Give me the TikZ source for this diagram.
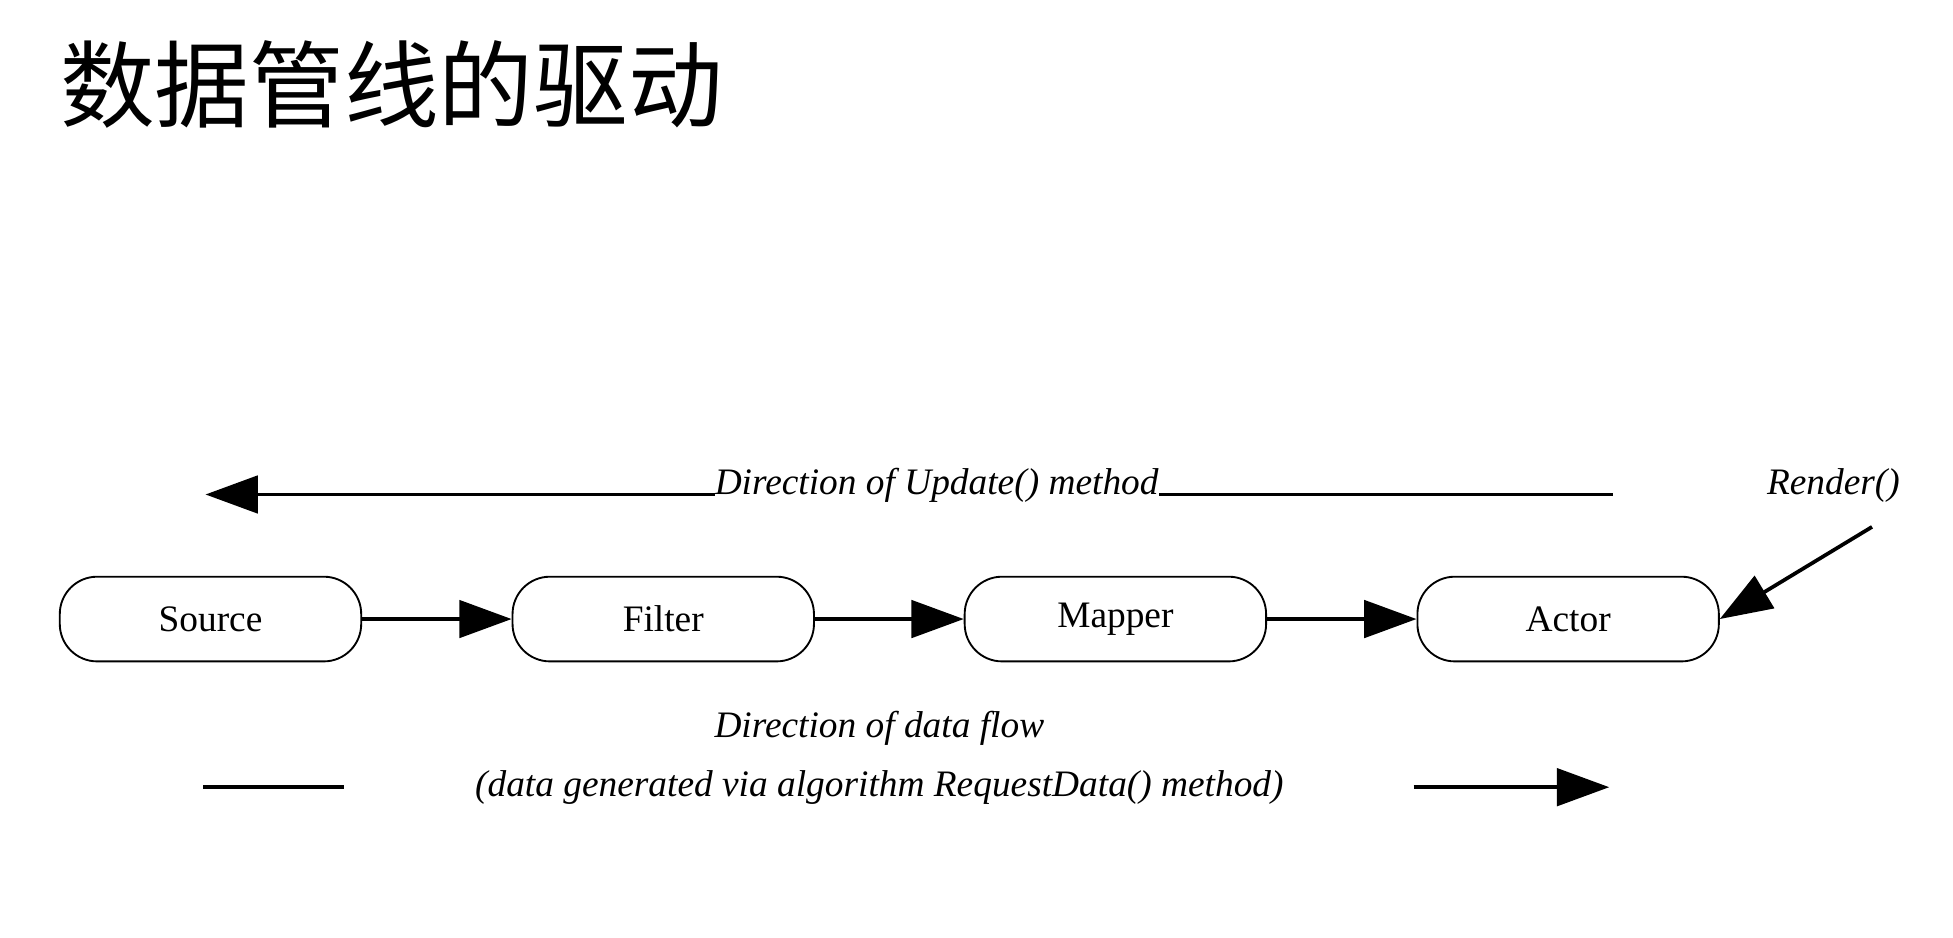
\documentclass[tikz,border=0pt]{standalone}
\usepackage{fontspec}
\setmainfont{Liberation Serif}
\newfontfamily\cjk{Noto Sans CJK SC}
\usetikzlibrary{arrows.meta}
\begin{document}
\begin{tikzpicture}[x=1pt,y=-1pt,
  box/.style={draw,line width=1.5pt,rounded corners=30pt,minimum width=242pt,minimum height=68pt,font=\fontsize{30}{36}\selectfont,inner sep=0pt},
  lbl/.style={font=\fontsize{30}{36}\selectfont\itshape,inner sep=0pt},
  ln/.style={line width=3pt},
  arr/.style={ln,-{Triangle[length=42pt,width=30pt]}}]
\useasboundingbox (0,0) rectangle (1568,753);
\node[anchor=west,font=\cjk\fontsize{76}{80}\selectfont,inner sep=0pt] (title) at (48,68) {数据管线的驱动};
\node[box] (src) at (169,497) {Source};
\node[box] (flt) at (532.5,497) {Filter};
\node[box] (map) at (895.5,497) {Mapper};
\node[box] (act) at (1259,497) {Actor};
\draw[arr] (src) -- (flt);
\draw[arr] (flt) -- (map);
\draw[arr] (map) -- (act);
\node[lbl] (upd) at (752,390) {Direction of Update() method};
\coordinate (uR) at (1295,397);
\coordinate (uL) at (165,397);
\draw[ln] (uR) -- (upd.east |- uR);
\draw[arr] (upd.west |- uL) -- (uL);
\node[lbl] (rnd) at (1472,390) {Render()};
\coordinate (rs) at (1503,423);
\draw[arr] (rs) -- (act.east);
\node[lbl] (df1) at (706,585) {Direction of data flow};
\node[lbl] (df2) at (706,632) {(data generated via algorithm RequestData() method)};
\coordinate (bl1) at (163,632);
\coordinate (bl2) at (276,632);
\coordinate (br1) at (1135,632);
\coordinate (br2) at (1292,632);
\draw[ln] (bl1) -- (bl2);
\draw[arr] (br1) -- (br2);
\end{tikzpicture}
\end{document}
